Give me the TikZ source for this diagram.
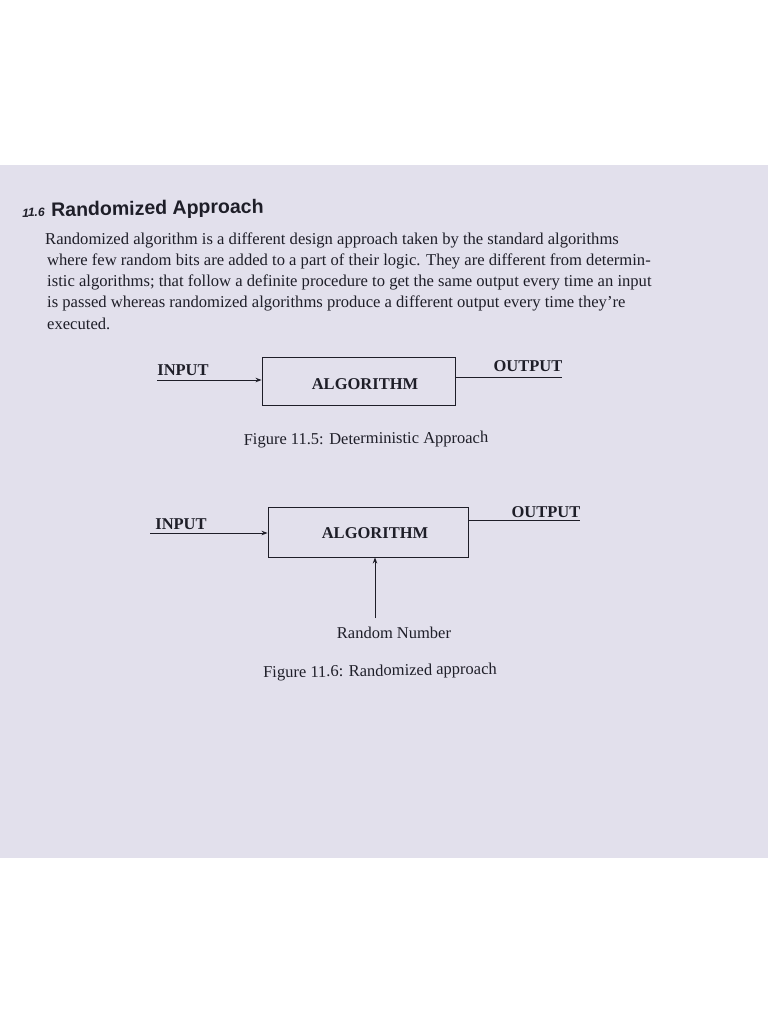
\documentclass[tikz,border=0pt]{standalone}
\usepackage{fontspec}
\setmainfont{Liberation Serif}
\newfontfamily\headfont{Liberation Sans}
\usetikzlibrary{arrows.meta}
\definecolor{pagebg}{HTML}{E2E0EC}
\definecolor{ink}{HTML}{1E1E28}
\tikzset{
  lbl/.style={font=\fontsize{16.5}{18}\selectfont\bfseries, text=ink, inner sep=0},
  algbox/.style={draw=ink, line width=0.9pt, inner sep=0},
  arr/.style={draw=ink, line width=0.9pt, -{Stealth[length=6pt]}},
  ln/.style={draw=ink, line width=0.9pt},
  para/.style={font=\fontsize{16.6}{18}\selectfont, text=ink, inner sep=0, anchor=west},
  figcap/.style={font=\fontsize{16.5}{18}\selectfont, text=ink, inner sep=0}
}
\begin{document}
\begin{tikzpicture}[x=1pt,y=-1pt]
\useasboundingbox (0,0) rectangle (768,1024);
\fill[white] (0,0) rectangle (768,1024);
\fill[pagebg] (0,165) rectangle (768,858);
\node[anchor=west, font=\headfont\bfseries, text=ink, inner sep=0, rotate=1] (head) at (22,212) {\fontsize{12}{14}\selectfont\itshape 11.6\ \ \fontsize{19.5}{22}\selectfont\upshape Randomized Approach};
\node[para] (p1) at (45,240) {Randomized algorithm is a different design approach taken by the standard algorithms};
\node[para] (p2) at (47,261) {where few random bits are added to a part of their logic. They are different from determin-};
\node[para] (p3) at (47,282) {istic algorithms; that follow a definite procedure to get the same output every time an input};
\node[para] (p4) at (47,303) {is passed whereas randomized algorithms produce a different output every time they're};
\node[para] (p5) at (47,324) {executed.};
% Figure 11.5
\node[algbox, minimum width=193, minimum height=48] (alg1) at (358.5,381) {};
\node[lbl] (a1t) at (365,384) {ALGORITHM};
\coordinate (in1) at (157,380);
\node[lbl] (inp1) at (183,370) {INPUT};
\draw[arr] (in1) -- (alg1.west |- in1);
\coordinate (o1s) at (455,377);
\coordinate (o1e) at (562,377);
\draw[ln] (o1s) -- (o1e);
\node[lbl] (out1) at (528,366) {OUTPUT};
\node[figcap, rotate=0.5] (cap1) at (366,440) {Figure 11.5: Deterministic Approach};
% Figure 11.6
\node[algbox, minimum width=200, minimum height=50] (alg2) at (368,532) {};
\node[lbl] (a2t) at (375,533) {ALGORITHM};
\coordinate (in2) at (150,533);
\node[lbl] (inp2) at (181,524) {INPUT};
\draw[arr] (in2) -- (alg2.west |- in2);
\coordinate (o2s) at (468,520);
\coordinate (o2e) at (580,520);
\draw[ln] (o2s) -- (o2e);
\node[lbl] (out2) at (546,512) {OUTPUT};
\coordinate (rn) at (375,618);
\draw[arr] (rn) -- (rn |- alg2.south);
\node[figcap] (rnl) at (394,633) {Random Number};
\node[figcap, rotate=1] (cap2) at (380,672) {Figure 11.6: Randomized approach};
\end{tikzpicture}
\end{document}
